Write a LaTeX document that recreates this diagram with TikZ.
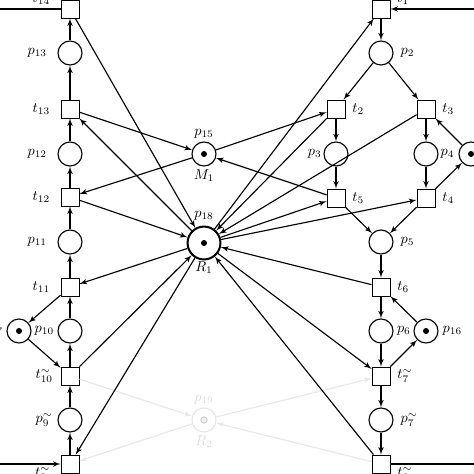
\documentclass[tikz,border=0pt]{standalone}
\usepackage{amsmath}
\usetikzlibrary{arrows}
\usetikzlibrary{math}
\tikzstyle{pl} = [circle, draw, minimum size=16.8pt, inner sep=0pt]
\tikzstyle{res} = [circle, draw, line width=1.4pt, minimum size=23pt, inner sep=0pt]
\tikzstyle{tr} = [rectangle, draw, line width=0.6pt, minimum size=12.6pt, inner sep=0pt]
\tikzstyle{arc} = [->,>=latex']
\tikzstyle{ghost} = [draw=black!9, text=black!13]

\begin{document}
\begin{tikzpicture}[x=0.7pt, y=-0.7pt, line width=0.8pt, >=latex',
  every label/.style={inner sep=2pt}]

  \tikzmath{\xl = 70; \xm = 204; \xr = 381; \xa = 336; \xb = 426;}
  \tikzmath{\ldist = 5; \rdist = 2.5;}

  \useasboundingbox (0,0) rectangle (474,474);
  \clip (0,0) rectangle (474,474);

  % left chain
  \node[tr, label={[yshift=7pt, label distance=\ldist pt]left:$t_{14}$}] (t14) at (\xl,9) {};
  \node[pl, label={[label distance=\ldist pt]left:$p_{13}$}] (p13) at (\xl,53) {};
  \node[tr, label={[label distance=\ldist pt]left:$t_{13}$}] (t13) at (\xl,109) {};
  \node[pl, label={[label distance=\ldist pt]left:$p_{12}$}] (p12) at (\xl,154) {};
  \node[tr, label={[label distance=\ldist pt]left:$t_{12}$}] (t12) at (\xl,197) {};
  \node[pl, label={[label distance=\ldist pt]left:$p_{11}$}] (p11) at (\xl,242) {};
  \node[tr, label={[label distance=\ldist pt]left:$t_{11}$}] (t11) at (\xl,287) {};
  \node[pl, label={[label distance=0pt]left:$p_{10}$}] (p10) at (\xl,331) {};
  \node[tr, label={[label distance=3pt]left:$t_{10}^{\sim}$}] (t10) at (\xl,376) {};
  \node[pl, label={[label distance=1pt]left:$p_{9}^{\sim}$}] (p9) at (\xl,420) {};
  \node[tr, label={[yshift=-7pt, label distance=\ldist pt]left:$t_{9}^{\sim}$}] (t9) at (\xl,464) {};
  \node[pl, label={[label distance=0pt]left:$p_{17}$}] (p17) at (19,331) {};
  \fill (p17) circle (2.1pt);

  % right chain
  \node[tr, label={[yshift=7pt, label distance=\rdist pt]right:$t_{1}$}] (t1) at (\xr,9) {};
  \node[pl, label={[label distance=\rdist pt]right:$p_{2}$}] (p2) at (\xr,53) {};
  \node[tr, label={[label distance=\rdist pt]right:$t_{2}$}] (t2) at (\xa,109) {};
  \node[tr, label={[label distance=\rdist pt]right:$t_{3}$}] (t3) at (\xb,109) {};
  \node[pl, label={[label distance=-1pt]left:$p_{3}$}] (p3) at (\xa,154) {};
  \node[pl, label={[label distance=-1pt]right:$p_{4}$}] (p4) at (\xb,154) {};
  \node[pl] (pr) at (471,154) {};
  \fill (pr) circle (2.1pt);
  \node[tr, label={[label distance=\rdist pt]right:$t_{5}$}] (t5) at (\xa,198) {};
  \node[tr, label={[label distance=\rdist pt]right:$t_{4}$}] (t4) at (\xb,198) {};
  \node[pl, label={[label distance=\rdist pt]right:$p_{5}$}] (p5) at (\xr,242) {};
  \node[tr, label={[label distance=\rdist pt]right:$t_{6}$}] (t6) at (\xr,287) {};
  \node[pl, label={[label distance=0pt]right:$p_{6}$}] (p6) at (\xr,331) {};
  \node[pl, label={[label distance=0.5pt]right:$p_{16}$}] (p16) at (\xb,331) {};
  \fill (p16) circle (2.1pt);
  \node[tr, label={[label distance=\rdist pt]right:$t_{7}^{\sim}$}] (t7) at (\xr,376) {};
  \node[pl, label={[label distance=\rdist pt]right:$p_{7}^{\sim}$}] (p7) at (\xr,420) {};
  \node[tr, label={[yshift=-7pt, label distance=\rdist pt]right:$t_{8}^{\sim}$}] (t8) at (\xr,464) {};

  % shared places
  \node[pl, label=above:$p_{15}$, label=below:$M_1$] (p15) at (\xm,154) {};
  \fill (p15) circle (2.1pt);
  \node[res, label={[label distance=1.5pt]above:$p_{18}$},
    label={[label distance=-1.5pt]below:$R_1$}] (p18) at (\xm,243) {};
  \fill (p18) circle (2.1pt);

  % open ends
  \coordinate (w14) at (-30,9);
  \coordinate (e1) at (504,9);
  \coordinate (w9) at (-30,464);
  \coordinate (e8) at (504,464);
  \draw (t14) -- (w14);
  \draw[arc] (e1) -- (t1);
  \draw[arc] (w9) -- (t9);
  \draw (t8) -- (e8);

  % faded copy
  \begin{scope}
    \node[pl, ghost, label={[text=black!13]above:$p_{19}$},
      label={[text=black!13]below:$R_2$}] (p19) at (\xm,420) {};
    \draw[black!25, fill=black!6, line width=0.5pt] (p19) circle (2.3pt);
    \foreach \a/\b in {t10/p19, p19/t9, p19/t7, t8/p19}
      \draw[arc, black!9] (\a) -- (\b);
  \end{scope}

  % chains
  \foreach \a/\b in {t9/p9, p9/t10, t10/p10, p10/t11, t11/p11, p11/t12,
      t12/p12, p12/t13, t13/p13, p13/t14}
    \draw[arc] (\a) -- (\b);
  \foreach \a/\b in {t1/p2, p2/t2, p2/t3, t2/p3, t3/p4, p3/t5, p4/t4,
      t5/p5, t4/p5, p5/t6, t6/p6, p6/t7, t7/p7, p7/t8}
    \draw[arc] (\a) -- (\b);
  \foreach \a/\b in {t11/p17, p17/t10, t4/pr, pr/t3, p16/t6, t7/p16}
    \draw[arc] (\a) -- (\b);

  % M1
  \foreach \a/\b in {t13/p15, p15/t12, p15/t2, t5/p15}
    \draw[arc] (\a) -- (\b);

  % R1
  \foreach \t in {t14, t12, t10, t2, t3, t6, t8}
    \draw[arc] (\t) -- (p18);
  \foreach \t in {t13, t11, t9, t1, t4, t5, t7}
    \draw[arc] (p18) -- (\t);

\end{tikzpicture}
\end{document}
